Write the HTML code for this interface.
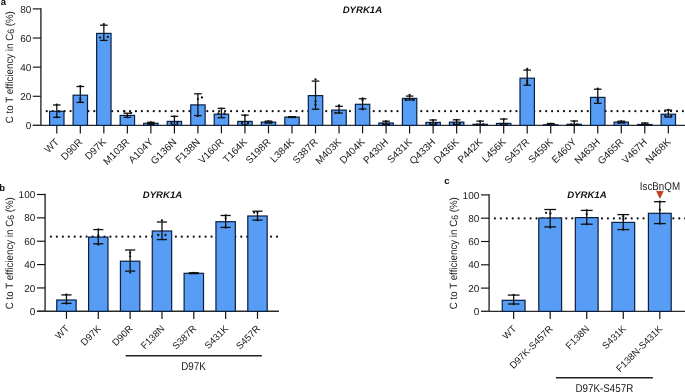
<!DOCTYPE html>
<html><head><meta charset="utf-8"><style>
html,body{margin:0;padding:0;background:#fff;width:685px;height:392px;overflow:hidden}
svg{display:block;text-rendering:geometricPrecision}
</style></head><body>
<svg width="685" height="392" viewBox="0 0 685 392" font-family='"Liberation Sans", Arial, Helvetica, sans-serif'>
<rect width="685" height="392" fill="#fff"/>
<text x="0.7" y="4.9" font-size="9.5" text-anchor="start" font-weight="bold" font-style="normal" fill="#111" >a</text>
<text x="-0.8" y="190.6" font-size="9.5" text-anchor="start" font-weight="bold" font-style="normal" fill="#111" >b</text>
<text x="444.2" y="184" font-size="9.5" text-anchor="start" font-weight="bold" font-style="normal" fill="#111" >c</text>
<text x="362.4" y="12.6" font-size="9.6" text-anchor="middle" font-weight="bold" font-style="italic" fill="#111" >DYRK1A</text>
<text x="162.5" y="198.3" font-size="9.6" text-anchor="middle" font-weight="bold" font-style="italic" fill="#111" >DYRK1A</text>
<text x="586.9" y="198.2" font-size="9.6" text-anchor="middle" font-weight="bold" font-style="italic" fill="#111" >DYRK1A</text>
<line x1="40.9" y1="8.25" x2="40.9" y2="125.4" stroke="#2b2b2b" stroke-width="1.4" />
<line x1="32.8" y1="125.4" x2="40.9" y2="125.4" stroke="#111" stroke-width="1.15" />
<text x="31.3" y="129" font-size="10" text-anchor="end" font-weight="normal" font-style="normal" fill="#1a1a1a" >0</text>
<line x1="32.8" y1="96.28" x2="40.9" y2="96.28" stroke="#111" stroke-width="1.15" />
<text x="31.3" y="99.88" font-size="10" text-anchor="end" font-weight="normal" font-style="normal" fill="#1a1a1a" >20</text>
<line x1="32.8" y1="67.15" x2="40.9" y2="67.15" stroke="#111" stroke-width="1.15" />
<text x="31.3" y="70.75" font-size="10" text-anchor="end" font-weight="normal" font-style="normal" fill="#1a1a1a" >40</text>
<line x1="32.8" y1="38.03" x2="40.9" y2="38.03" stroke="#111" stroke-width="1.15" />
<text x="31.3" y="41.63" font-size="10" text-anchor="end" font-weight="normal" font-style="normal" fill="#1a1a1a" >60</text>
<line x1="32.8" y1="8.9" x2="40.9" y2="8.9" stroke="#111" stroke-width="1.15" />
<text x="31.3" y="12.5" font-size="10" text-anchor="end" font-weight="normal" font-style="normal" fill="#1a1a1a" >80</text>
<line x1="32.8" y1="125.4" x2="685" y2="125.4" stroke="#2b2b2b" stroke-width="1.4" />
<line x1="46.76" y1="111.2" x2="686" y2="111.2" stroke="#111" stroke-width="2.2" stroke-linecap="round" stroke-dasharray="0 5.9453" />
<rect x="49.6" y="111.3" width="14.4" height="14.1" fill="#579cf5" stroke="#0b1f3f" stroke-width="1.2"/>
<line x1="56.8" y1="105" x2="56.8" y2="117.3" stroke="#111" stroke-width="1.3" />
<line x1="53" y1="105" x2="60.6" y2="105" stroke="#111" stroke-width="1.3" />
<line x1="53" y1="117.3" x2="60.6" y2="117.3" stroke="#111" stroke-width="1.3" />
<circle cx="56.8" cy="104.6" r="1.15" fill="#111"/>
<circle cx="56.8" cy="117.2" r="1.15" fill="#111"/>
<circle cx="59.3" cy="111.6" r="1.15" fill="#111"/>
<line x1="56.8" y1="125.4" x2="56.8" y2="133.4" stroke="#151515" stroke-width="1.2" />
<rect x="73.12" y="95.2" width="14.4" height="30.2" fill="#579cf5" stroke="#0b1f3f" stroke-width="1.2"/>
<line x1="80.32" y1="86.5" x2="80.32" y2="102.4" stroke="#111" stroke-width="1.3" />
<line x1="76.52" y1="86.5" x2="84.12" y2="86.5" stroke="#111" stroke-width="1.3" />
<line x1="76.52" y1="102.4" x2="84.12" y2="102.4" stroke="#111" stroke-width="1.3" />
<circle cx="80.32" cy="86.1" r="1.15" fill="#111"/>
<circle cx="80.32" cy="98.9" r="1.15" fill="#111"/>
<circle cx="80.32" cy="101.8" r="1.15" fill="#111"/>
<line x1="80.32" y1="125.4" x2="80.32" y2="133.4" stroke="#151515" stroke-width="1.2" />
<rect x="96.64" y="33.4" width="14.4" height="92" fill="#579cf5" stroke="#0b1f3f" stroke-width="1.2"/>
<line x1="103.84" y1="25.2" x2="103.84" y2="40.4" stroke="#111" stroke-width="1.3" />
<line x1="100.04" y1="25.2" x2="107.64" y2="25.2" stroke="#111" stroke-width="1.3" />
<line x1="100.04" y1="40.4" x2="107.64" y2="40.4" stroke="#111" stroke-width="1.3" />
<circle cx="103.84" cy="24.2" r="1.15" fill="#111"/>
<circle cx="100.14" cy="37.6" r="1.15" fill="#111"/>
<circle cx="107.84" cy="36.9" r="1.15" fill="#111"/>
<line x1="103.84" y1="125.4" x2="103.84" y2="133.4" stroke="#151515" stroke-width="1.2" />
<rect x="120.16" y="115.4" width="14.4" height="10" fill="#579cf5" stroke="#0b1f3f" stroke-width="1.2"/>
<line x1="127.36" y1="113.2" x2="127.36" y2="117.3" stroke="#111" stroke-width="1.3" />
<line x1="123.56" y1="113.2" x2="131.16" y2="113.2" stroke="#111" stroke-width="1.3" />
<line x1="123.56" y1="117.3" x2="131.16" y2="117.3" stroke="#111" stroke-width="1.3" />
<circle cx="124.36" cy="111.4" r="1.15" fill="#111"/>
<circle cx="131.16" cy="112.9" r="1.15" fill="#111"/>
<circle cx="127.36" cy="117.2" r="1.15" fill="#111"/>
<line x1="127.36" y1="125.4" x2="127.36" y2="133.4" stroke="#151515" stroke-width="1.2" />
<rect x="143.68" y="123.3" width="14.4" height="2.1" fill="#579cf5" stroke="#0b1f3f" stroke-width="1.2"/>
<line x1="150.88" y1="122.3" x2="150.88" y2="124.3" stroke="#111" stroke-width="1.3" />
<line x1="147.08" y1="122.3" x2="154.68" y2="122.3" stroke="#111" stroke-width="1.3" />
<line x1="147.08" y1="124.3" x2="154.68" y2="124.3" stroke="#111" stroke-width="1.3" />
<circle cx="150.88" cy="122.4" r="1.15" fill="#111"/>
<circle cx="148.88" cy="123.6" r="1.15" fill="#111"/>
<circle cx="152.88" cy="123.6" r="1.15" fill="#111"/>
<line x1="150.88" y1="125.4" x2="150.88" y2="133.4" stroke="#151515" stroke-width="1.2" />
<rect x="167.2" y="121.4" width="14.4" height="4" fill="#579cf5" stroke="#0b1f3f" stroke-width="1.2"/>
<line x1="174.4" y1="116.3" x2="174.4" y2="125" stroke="#111" stroke-width="1.3" />
<line x1="170.6" y1="116.3" x2="178.2" y2="116.3" stroke="#111" stroke-width="1.3" />
<line x1="170.6" y1="125" x2="178.2" y2="125" stroke="#111" stroke-width="1.3" />
<circle cx="171.4" cy="123" r="1.15" fill="#111"/>
<circle cx="177.4" cy="123" r="1.15" fill="#111"/>
<circle cx="174.4" cy="116.6" r="1.15" fill="#111"/>
<line x1="174.4" y1="125.4" x2="174.4" y2="133.4" stroke="#151515" stroke-width="1.2" />
<rect x="190.72" y="104.9" width="14.4" height="20.5" fill="#579cf5" stroke="#0b1f3f" stroke-width="1.2"/>
<line x1="197.92" y1="93.8" x2="197.92" y2="115.6" stroke="#111" stroke-width="1.3" />
<line x1="194.12" y1="93.8" x2="201.72" y2="93.8" stroke="#111" stroke-width="1.3" />
<line x1="194.12" y1="115.6" x2="201.72" y2="115.6" stroke="#111" stroke-width="1.3" />
<circle cx="201.92" cy="97.5" r="1.15" fill="#111"/>
<circle cx="197.92" cy="99.1" r="1.15" fill="#111"/>
<circle cx="197.92" cy="116" r="1.15" fill="#111"/>
<line x1="197.92" y1="125.4" x2="197.92" y2="133.4" stroke="#151515" stroke-width="1.2" />
<rect x="214.24" y="114.2" width="14.4" height="11.2" fill="#579cf5" stroke="#0b1f3f" stroke-width="1.2"/>
<line x1="221.44" y1="108.4" x2="221.44" y2="117.7" stroke="#111" stroke-width="1.3" />
<line x1="217.64" y1="108.4" x2="225.24" y2="108.4" stroke="#111" stroke-width="1.3" />
<line x1="217.64" y1="117.7" x2="225.24" y2="117.7" stroke="#111" stroke-width="1.3" />
<circle cx="221.44" cy="108.6" r="1.15" fill="#111"/>
<circle cx="218.44" cy="113.5" r="1.15" fill="#111"/>
<circle cx="224.44" cy="113.5" r="1.15" fill="#111"/>
<line x1="221.44" y1="125.4" x2="221.44" y2="133.4" stroke="#151515" stroke-width="1.2" />
<rect x="237.76" y="121.4" width="14.4" height="4" fill="#579cf5" stroke="#0b1f3f" stroke-width="1.2"/>
<line x1="244.96" y1="115.1" x2="244.96" y2="125" stroke="#111" stroke-width="1.3" />
<line x1="241.16" y1="115.1" x2="248.76" y2="115.1" stroke="#111" stroke-width="1.3" />
<line x1="241.16" y1="125" x2="248.76" y2="125" stroke="#111" stroke-width="1.3" />
<circle cx="244.96" cy="115.5" r="1.15" fill="#111"/>
<circle cx="241.96" cy="123" r="1.15" fill="#111"/>
<circle cx="247.96" cy="123" r="1.15" fill="#111"/>
<line x1="244.96" y1="125.4" x2="244.96" y2="133.4" stroke="#151515" stroke-width="1.2" />
<rect x="261.28" y="122.1" width="14.4" height="3.3" fill="#579cf5" stroke="#0b1f3f" stroke-width="1.2"/>
<line x1="268.48" y1="121.1" x2="268.48" y2="123" stroke="#111" stroke-width="1.3" />
<line x1="264.68" y1="121.1" x2="272.28" y2="121.1" stroke="#111" stroke-width="1.3" />
<line x1="264.68" y1="123" x2="272.28" y2="123" stroke="#111" stroke-width="1.3" />
<circle cx="265.48" cy="122.5" r="1.15" fill="#111"/>
<circle cx="268.48" cy="121.3" r="1.15" fill="#111"/>
<circle cx="271.48" cy="122.5" r="1.15" fill="#111"/>
<line x1="268.48" y1="125.4" x2="268.48" y2="133.4" stroke="#151515" stroke-width="1.2" />
<rect x="284.8" y="117.1" width="14.4" height="8.3" fill="#579cf5" stroke="#0b1f3f" stroke-width="1.2"/>
<line x1="292" y1="116.8" x2="292" y2="117.4" stroke="#111" stroke-width="1.3" />
<line x1="288.2" y1="116.8" x2="295.8" y2="116.8" stroke="#111" stroke-width="1.3" />
<line x1="288.2" y1="117.4" x2="295.8" y2="117.4" stroke="#111" stroke-width="1.3" />
<circle cx="289" cy="117.2" r="1.15" fill="#111"/>
<circle cx="292" cy="117.2" r="1.15" fill="#111"/>
<circle cx="295" cy="117.2" r="1.15" fill="#111"/>
<line x1="292" y1="125.4" x2="292" y2="133.4" stroke="#151515" stroke-width="1.2" />
<rect x="308.32" y="95.6" width="14.4" height="29.8" fill="#579cf5" stroke="#0b1f3f" stroke-width="1.2"/>
<line x1="315.52" y1="81.1" x2="315.52" y2="109.2" stroke="#111" stroke-width="1.3" />
<line x1="311.72" y1="81.1" x2="319.32" y2="81.1" stroke="#111" stroke-width="1.3" />
<line x1="311.72" y1="109.2" x2="319.32" y2="109.2" stroke="#111" stroke-width="1.3" />
<circle cx="315.52" cy="79.5" r="1.15" fill="#111"/>
<circle cx="315.52" cy="101.4" r="1.15" fill="#111"/>
<circle cx="315.52" cy="104.9" r="1.15" fill="#111"/>
<line x1="315.52" y1="125.4" x2="315.52" y2="133.4" stroke="#151515" stroke-width="1.2" />
<rect x="331.84" y="110.1" width="14.4" height="15.3" fill="#579cf5" stroke="#0b1f3f" stroke-width="1.2"/>
<line x1="339.04" y1="106.3" x2="339.04" y2="113" stroke="#111" stroke-width="1.3" />
<line x1="335.24" y1="106.3" x2="342.84" y2="106.3" stroke="#111" stroke-width="1.3" />
<line x1="335.24" y1="113" x2="342.84" y2="113" stroke="#111" stroke-width="1.3" />
<circle cx="339.04" cy="105.5" r="1.15" fill="#111"/>
<circle cx="335.34" cy="112.8" r="1.15" fill="#111"/>
<circle cx="339.04" cy="112.8" r="1.15" fill="#111"/>
<line x1="339.04" y1="125.4" x2="339.04" y2="133.4" stroke="#151515" stroke-width="1.2" />
<rect x="355.36" y="104.3" width="14.4" height="21.1" fill="#579cf5" stroke="#0b1f3f" stroke-width="1.2"/>
<line x1="362.56" y1="98.7" x2="362.56" y2="109" stroke="#111" stroke-width="1.3" />
<line x1="358.76" y1="98.7" x2="366.36" y2="98.7" stroke="#111" stroke-width="1.3" />
<line x1="358.76" y1="109" x2="366.36" y2="109" stroke="#111" stroke-width="1.3" />
<circle cx="362.56" cy="98.5" r="1.15" fill="#111"/>
<circle cx="362.56" cy="100.2" r="1.15" fill="#111"/>
<circle cx="362.56" cy="109.3" r="1.15" fill="#111"/>
<line x1="362.56" y1="125.4" x2="362.56" y2="133.4" stroke="#151515" stroke-width="1.2" />
<rect x="378.88" y="123" width="14.4" height="2.4" fill="#579cf5" stroke="#0b1f3f" stroke-width="1.2"/>
<line x1="386.08" y1="121.2" x2="386.08" y2="124.5" stroke="#111" stroke-width="1.3" />
<line x1="382.28" y1="121.2" x2="389.88" y2="121.2" stroke="#111" stroke-width="1.3" />
<line x1="382.28" y1="124.5" x2="389.88" y2="124.5" stroke="#111" stroke-width="1.3" />
<circle cx="386.08" cy="121.4" r="1.15" fill="#111"/>
<circle cx="383.08" cy="123.8" r="1.15" fill="#111"/>
<circle cx="389.08" cy="123.8" r="1.15" fill="#111"/>
<line x1="386.08" y1="125.4" x2="386.08" y2="133.4" stroke="#151515" stroke-width="1.2" />
<rect x="402.4" y="98.4" width="14.4" height="27" fill="#579cf5" stroke="#0b1f3f" stroke-width="1.2"/>
<line x1="409.6" y1="96.1" x2="409.6" y2="100" stroke="#111" stroke-width="1.3" />
<line x1="405.8" y1="96.1" x2="413.4" y2="96.1" stroke="#111" stroke-width="1.3" />
<line x1="405.8" y1="100" x2="413.4" y2="100" stroke="#111" stroke-width="1.3" />
<circle cx="409.6" cy="94.9" r="1.15" fill="#111"/>
<circle cx="405.6" cy="100" r="1.15" fill="#111"/>
<circle cx="413.6" cy="100" r="1.15" fill="#111"/>
<line x1="409.6" y1="125.4" x2="409.6" y2="133.4" stroke="#151515" stroke-width="1.2" />
<rect x="425.92" y="122.4" width="14.4" height="3" fill="#579cf5" stroke="#0b1f3f" stroke-width="1.2"/>
<line x1="433.12" y1="120" x2="433.12" y2="124.5" stroke="#111" stroke-width="1.3" />
<line x1="429.32" y1="120" x2="436.92" y2="120" stroke="#111" stroke-width="1.3" />
<line x1="429.32" y1="124.5" x2="436.92" y2="124.5" stroke="#111" stroke-width="1.3" />
<circle cx="433.12" cy="120.2" r="1.15" fill="#111"/>
<circle cx="430.12" cy="123.5" r="1.15" fill="#111"/>
<circle cx="436.12" cy="123.5" r="1.15" fill="#111"/>
<line x1="433.12" y1="125.4" x2="433.12" y2="133.4" stroke="#151515" stroke-width="1.2" />
<rect x="449.44" y="122.1" width="14.4" height="3.3" fill="#579cf5" stroke="#0b1f3f" stroke-width="1.2"/>
<line x1="456.64" y1="119.8" x2="456.64" y2="124.5" stroke="#111" stroke-width="1.3" />
<line x1="452.84" y1="119.8" x2="460.44" y2="119.8" stroke="#111" stroke-width="1.3" />
<line x1="452.84" y1="124.5" x2="460.44" y2="124.5" stroke="#111" stroke-width="1.3" />
<circle cx="456.64" cy="120" r="1.15" fill="#111"/>
<circle cx="453.64" cy="123.3" r="1.15" fill="#111"/>
<circle cx="459.64" cy="123.3" r="1.15" fill="#111"/>
<line x1="456.64" y1="125.4" x2="456.64" y2="133.4" stroke="#151515" stroke-width="1.2" />
<rect x="472.96" y="124.3" width="14.4" height="1.1" fill="#579cf5" stroke="#0b1f3f" stroke-width="1.2"/>
<line x1="480.16" y1="121.1" x2="480.16" y2="125" stroke="#111" stroke-width="1.3" />
<line x1="476.36" y1="121.1" x2="483.96" y2="121.1" stroke="#111" stroke-width="1.3" />
<line x1="476.36" y1="125" x2="483.96" y2="125" stroke="#111" stroke-width="1.3" />
<circle cx="480.16" cy="121.4" r="1.15" fill="#111"/>
<circle cx="477.16" cy="124.5" r="1.15" fill="#111"/>
<circle cx="483.16" cy="124.5" r="1.15" fill="#111"/>
<line x1="480.16" y1="125.4" x2="480.16" y2="133.4" stroke="#151515" stroke-width="1.2" />
<rect x="496.48" y="123.4" width="14.4" height="2" fill="#579cf5" stroke="#0b1f3f" stroke-width="1.2"/>
<line x1="503.68" y1="119" x2="503.68" y2="125" stroke="#111" stroke-width="1.3" />
<line x1="499.88" y1="119" x2="507.48" y2="119" stroke="#111" stroke-width="1.3" />
<line x1="499.88" y1="125" x2="507.48" y2="125" stroke="#111" stroke-width="1.3" />
<circle cx="503.68" cy="119.3" r="1.15" fill="#111"/>
<circle cx="500.68" cy="124" r="1.15" fill="#111"/>
<circle cx="506.68" cy="124" r="1.15" fill="#111"/>
<line x1="503.68" y1="125.4" x2="503.68" y2="133.4" stroke="#151515" stroke-width="1.2" />
<rect x="520" y="78.2" width="14.4" height="47.2" fill="#579cf5" stroke="#0b1f3f" stroke-width="1.2"/>
<line x1="527.2" y1="70.1" x2="527.2" y2="85.2" stroke="#111" stroke-width="1.3" />
<line x1="523.4" y1="70.1" x2="531" y2="70.1" stroke="#111" stroke-width="1.3" />
<line x1="523.4" y1="85.2" x2="531" y2="85.2" stroke="#111" stroke-width="1.3" />
<circle cx="527.2" cy="69" r="1.15" fill="#111"/>
<circle cx="527.2" cy="80.75" r="1.15" fill="#111"/>
<circle cx="527.2" cy="83.25" r="1.15" fill="#111"/>
<line x1="527.2" y1="125.4" x2="527.2" y2="133.4" stroke="#151515" stroke-width="1.2" />
<rect x="543.52" y="124.8" width="14.4" height="0.6" fill="#579cf5" stroke="#0b1f3f" stroke-width="1.2"/>
<line x1="550.72" y1="123.5" x2="550.72" y2="125" stroke="#111" stroke-width="1.3" />
<line x1="546.92" y1="123.5" x2="554.52" y2="123.5" stroke="#111" stroke-width="1.3" />
<line x1="546.92" y1="125" x2="554.52" y2="125" stroke="#111" stroke-width="1.3" />
<circle cx="547.72" cy="124.3" r="1.15" fill="#111"/>
<circle cx="550.72" cy="123.8" r="1.15" fill="#111"/>
<circle cx="553.72" cy="124.3" r="1.15" fill="#111"/>
<line x1="550.72" y1="125.4" x2="550.72" y2="133.4" stroke="#151515" stroke-width="1.2" />
<rect x="567.04" y="124.3" width="14.4" height="1.1" fill="#579cf5" stroke="#0b1f3f" stroke-width="1.2"/>
<line x1="574.24" y1="121" x2="574.24" y2="125" stroke="#111" stroke-width="1.3" />
<line x1="570.44" y1="121" x2="578.04" y2="121" stroke="#111" stroke-width="1.3" />
<line x1="570.44" y1="125" x2="578.04" y2="125" stroke="#111" stroke-width="1.3" />
<circle cx="574.24" cy="121.3" r="1.15" fill="#111"/>
<circle cx="571.24" cy="124.4" r="1.15" fill="#111"/>
<circle cx="577.24" cy="124.4" r="1.15" fill="#111"/>
<line x1="574.24" y1="125.4" x2="574.24" y2="133.4" stroke="#151515" stroke-width="1.2" />
<rect x="590.56" y="97.4" width="14.4" height="28" fill="#579cf5" stroke="#0b1f3f" stroke-width="1.2"/>
<line x1="597.76" y1="89.2" x2="597.76" y2="103.3" stroke="#111" stroke-width="1.3" />
<line x1="593.96" y1="89.2" x2="601.56" y2="89.2" stroke="#111" stroke-width="1.3" />
<line x1="593.96" y1="103.3" x2="601.56" y2="103.3" stroke="#111" stroke-width="1.3" />
<circle cx="597.76" cy="88.7" r="1.15" fill="#111"/>
<circle cx="597.76" cy="99" r="1.15" fill="#111"/>
<circle cx="597.76" cy="100.75" r="1.15" fill="#111"/>
<line x1="597.76" y1="125.4" x2="597.76" y2="133.4" stroke="#151515" stroke-width="1.2" />
<rect x="614.08" y="122.1" width="14.4" height="3.3" fill="#579cf5" stroke="#0b1f3f" stroke-width="1.2"/>
<line x1="621.28" y1="121.2" x2="621.28" y2="123" stroke="#111" stroke-width="1.3" />
<line x1="617.48" y1="121.2" x2="625.08" y2="121.2" stroke="#111" stroke-width="1.3" />
<line x1="617.48" y1="123" x2="625.08" y2="123" stroke="#111" stroke-width="1.3" />
<circle cx="618.28" cy="122.5" r="1.15" fill="#111"/>
<circle cx="621.28" cy="121.4" r="1.15" fill="#111"/>
<circle cx="624.28" cy="122.5" r="1.15" fill="#111"/>
<line x1="621.28" y1="125.4" x2="621.28" y2="133.4" stroke="#151515" stroke-width="1.2" />
<rect x="637.6" y="124.5" width="14.4" height="0.9" fill="#579cf5" stroke="#0b1f3f" stroke-width="1.2"/>
<line x1="644.8" y1="123" x2="644.8" y2="125" stroke="#111" stroke-width="1.3" />
<line x1="641" y1="123" x2="648.6" y2="123" stroke="#111" stroke-width="1.3" />
<line x1="641" y1="125" x2="648.6" y2="125" stroke="#111" stroke-width="1.3" />
<circle cx="642.3" cy="124.3" r="1.15" fill="#111"/>
<circle cx="644.8" cy="123.3" r="1.15" fill="#111"/>
<circle cx="647.3" cy="124.3" r="1.15" fill="#111"/>
<line x1="644.8" y1="125.4" x2="644.8" y2="133.4" stroke="#151515" stroke-width="1.2" />
<rect x="661.12" y="114.2" width="14.4" height="11.2" fill="#579cf5" stroke="#0b1f3f" stroke-width="1.2"/>
<line x1="668.32" y1="110.1" x2="668.32" y2="117.1" stroke="#111" stroke-width="1.3" />
<line x1="664.52" y1="110.1" x2="672.12" y2="110.1" stroke="#111" stroke-width="1.3" />
<line x1="664.52" y1="117.1" x2="672.12" y2="117.1" stroke="#111" stroke-width="1.3" />
<circle cx="668.32" cy="110" r="1.15" fill="#111"/>
<circle cx="665.32" cy="116" r="1.15" fill="#111"/>
<circle cx="671.32" cy="116" r="1.15" fill="#111"/>
<line x1="668.32" y1="125.4" x2="668.32" y2="133.4" stroke="#151515" stroke-width="1.2" />
<text x="0" y="0" font-size="9.75" text-anchor="middle" fill="#1a1a1a" transform="translate(12.85,67.2) rotate(-90) scale(1,1.08)">C to T efficiency in C<tspan font-size="8.6" dy="1.3">6</tspan><tspan dy="-1.3"> (%)</tspan></text>
<text x="0" y="0" font-size="10" text-anchor="end" fill="#1a1a1a" transform="translate(59.6,142.6) rotate(-45)">WT</text>
<text x="0" y="0" font-size="10" text-anchor="end" fill="#1a1a1a" transform="translate(83.12,142.6) rotate(-45)">D90R</text>
<text x="0" y="0" font-size="10" text-anchor="end" fill="#1a1a1a" transform="translate(106.64,142.6) rotate(-45)">D97K</text>
<text x="0" y="0" font-size="10" text-anchor="end" fill="#1a1a1a" transform="translate(130.16,142.6) rotate(-45)">M103R</text>
<text x="0" y="0" font-size="10" text-anchor="end" fill="#1a1a1a" transform="translate(153.68,142.6) rotate(-45)">A104Y</text>
<text x="0" y="0" font-size="10" text-anchor="end" fill="#1a1a1a" transform="translate(177.2,142.6) rotate(-45)">G136N</text>
<text x="0" y="0" font-size="10" text-anchor="end" fill="#1a1a1a" transform="translate(200.72,142.6) rotate(-45)">F138N</text>
<text x="0" y="0" font-size="10" text-anchor="end" fill="#1a1a1a" transform="translate(224.24,142.6) rotate(-45)">V160R</text>
<text x="0" y="0" font-size="10" text-anchor="end" fill="#1a1a1a" transform="translate(247.76,142.6) rotate(-45)">T164K</text>
<text x="0" y="0" font-size="10" text-anchor="end" fill="#1a1a1a" transform="translate(271.28,142.6) rotate(-45)">S198R</text>
<text x="0" y="0" font-size="10" text-anchor="end" fill="#1a1a1a" transform="translate(294.8,142.6) rotate(-45)">L384K</text>
<text x="0" y="0" font-size="10" text-anchor="end" fill="#1a1a1a" transform="translate(318.32,142.6) rotate(-45)">S387R</text>
<text x="0" y="0" font-size="10" text-anchor="end" fill="#1a1a1a" transform="translate(341.84,142.6) rotate(-45)">M403K</text>
<text x="0" y="0" font-size="10" text-anchor="end" fill="#1a1a1a" transform="translate(365.36,142.6) rotate(-45)">D404K</text>
<text x="0" y="0" font-size="10" text-anchor="end" fill="#1a1a1a" transform="translate(388.88,142.6) rotate(-45)">P430H</text>
<text x="0" y="0" font-size="10" text-anchor="end" fill="#1a1a1a" transform="translate(412.4,142.6) rotate(-45)">S431K</text>
<text x="0" y="0" font-size="10" text-anchor="end" fill="#1a1a1a" transform="translate(435.92,142.6) rotate(-45)">Q433H</text>
<text x="0" y="0" font-size="10" text-anchor="end" fill="#1a1a1a" transform="translate(459.44,142.6) rotate(-45)">D436K</text>
<text x="0" y="0" font-size="10" text-anchor="end" fill="#1a1a1a" transform="translate(482.96,142.6) rotate(-45)">P442K</text>
<text x="0" y="0" font-size="10" text-anchor="end" fill="#1a1a1a" transform="translate(506.48,142.6) rotate(-45)">L456K</text>
<text x="0" y="0" font-size="10" text-anchor="end" fill="#1a1a1a" transform="translate(530,142.6) rotate(-45)">S457R</text>
<text x="0" y="0" font-size="10" text-anchor="end" fill="#1a1a1a" transform="translate(553.52,142.6) rotate(-45)">S459K</text>
<text x="0" y="0" font-size="10" text-anchor="end" fill="#1a1a1a" transform="translate(577.04,142.6) rotate(-45)">E460Y</text>
<text x="0" y="0" font-size="10" text-anchor="end" fill="#1a1a1a" transform="translate(600.56,142.6) rotate(-45)">N463H</text>
<text x="0" y="0" font-size="10" text-anchor="end" fill="#1a1a1a" transform="translate(624.08,142.6) rotate(-45)">G465R</text>
<text x="0" y="0" font-size="10" text-anchor="end" fill="#1a1a1a" transform="translate(647.6,142.6) rotate(-45)">V467H</text>
<text x="0" y="0" font-size="10" text-anchor="end" fill="#1a1a1a" transform="translate(671.12,142.6) rotate(-45)">N468K</text>
<line x1="45.1" y1="193.85" x2="45.1" y2="311.3" stroke="#2b2b2b" stroke-width="1.4" />
<line x1="37" y1="311.3" x2="45.1" y2="311.3" stroke="#111" stroke-width="1.15" />
<text x="35.3" y="314.9" font-size="10" text-anchor="end" font-weight="normal" font-style="normal" fill="#1a1a1a" >0</text>
<line x1="37" y1="287.94" x2="45.1" y2="287.94" stroke="#111" stroke-width="1.15" />
<text x="35.3" y="291.54" font-size="10" text-anchor="end" font-weight="normal" font-style="normal" fill="#1a1a1a" >20</text>
<line x1="37" y1="264.58" x2="45.1" y2="264.58" stroke="#111" stroke-width="1.15" />
<text x="35.3" y="268.18" font-size="10" text-anchor="end" font-weight="normal" font-style="normal" fill="#1a1a1a" >40</text>
<line x1="37" y1="241.22" x2="45.1" y2="241.22" stroke="#111" stroke-width="1.15" />
<text x="35.3" y="244.82" font-size="10" text-anchor="end" font-weight="normal" font-style="normal" fill="#1a1a1a" >60</text>
<line x1="37" y1="217.86" x2="45.1" y2="217.86" stroke="#111" stroke-width="1.15" />
<text x="35.3" y="221.46" font-size="10" text-anchor="end" font-weight="normal" font-style="normal" fill="#1a1a1a" >80</text>
<line x1="37" y1="194.5" x2="45.1" y2="194.5" stroke="#111" stroke-width="1.15" />
<text x="35.3" y="198.1" font-size="10" text-anchor="end" font-weight="normal" font-style="normal" fill="#1a1a1a" >100</text>
<line x1="37" y1="311.3" x2="279" y2="311.3" stroke="#2b2b2b" stroke-width="1.4" />
<line x1="50.95" y1="236.7" x2="281" y2="236.7" stroke="#111" stroke-width="2.2" stroke-linecap="round" stroke-dasharray="0 5.948" />
<rect x="56.75" y="300" width="19.4" height="11.3" fill="#579cf5" stroke="#0b1f3f" stroke-width="1.2"/>
<line x1="66.45" y1="294.9" x2="66.45" y2="303.4" stroke="#111" stroke-width="1.3" />
<line x1="61.35" y1="294.9" x2="71.55" y2="294.9" stroke="#111" stroke-width="1.3" />
<line x1="61.35" y1="303.4" x2="71.55" y2="303.4" stroke="#111" stroke-width="1.3" />
<circle cx="66.45" cy="294.7" r="1.15" fill="#111"/>
<circle cx="66.45" cy="303.5" r="1.15" fill="#111"/>
<line x1="66.45" y1="311.3" x2="66.45" y2="318.9" stroke="#151515" stroke-width="1.2" />
<rect x="88.59" y="237.1" width="19.4" height="74.2" fill="#579cf5" stroke="#0b1f3f" stroke-width="1.2"/>
<line x1="98.29" y1="229.6" x2="98.29" y2="243.8" stroke="#111" stroke-width="1.3" />
<line x1="93.19" y1="229.6" x2="103.39" y2="229.6" stroke="#111" stroke-width="1.3" />
<line x1="93.19" y1="243.8" x2="103.39" y2="243.8" stroke="#111" stroke-width="1.3" />
<circle cx="98.29" cy="229.5" r="1.15" fill="#111"/>
<circle cx="98.29" cy="235.3" r="1.15" fill="#111"/>
<circle cx="98.29" cy="244.5" r="1.15" fill="#111"/>
<line x1="98.29" y1="311.3" x2="98.29" y2="318.9" stroke="#151515" stroke-width="1.2" />
<rect x="120.43" y="261.2" width="19.4" height="50.1" fill="#579cf5" stroke="#0b1f3f" stroke-width="1.2"/>
<line x1="130.13" y1="250" x2="130.13" y2="271.1" stroke="#111" stroke-width="1.3" />
<line x1="125.03" y1="250" x2="135.23" y2="250" stroke="#111" stroke-width="1.3" />
<line x1="125.03" y1="271.1" x2="135.23" y2="271.1" stroke="#111" stroke-width="1.3" />
<circle cx="130.13" cy="252.8" r="1.15" fill="#111"/>
<circle cx="130.13" cy="256.3" r="1.15" fill="#111"/>
<circle cx="130.13" cy="272.6" r="1.15" fill="#111"/>
<line x1="130.13" y1="311.3" x2="130.13" y2="318.9" stroke="#151515" stroke-width="1.2" />
<rect x="152.27" y="231" width="19.4" height="80.3" fill="#579cf5" stroke="#0b1f3f" stroke-width="1.2"/>
<line x1="161.97" y1="222" x2="161.97" y2="239.6" stroke="#111" stroke-width="1.3" />
<line x1="156.87" y1="222" x2="167.07" y2="222" stroke="#111" stroke-width="1.3" />
<line x1="156.87" y1="239.6" x2="167.07" y2="239.6" stroke="#111" stroke-width="1.3" />
<circle cx="161.97" cy="220.5" r="1.15" fill="#111"/>
<circle cx="158.27" cy="235" r="1.15" fill="#111"/>
<circle cx="165.47" cy="235" r="1.15" fill="#111"/>
<line x1="161.97" y1="311.3" x2="161.97" y2="318.9" stroke="#151515" stroke-width="1.2" />
<rect x="184.11" y="273.3" width="19.4" height="38" fill="#579cf5" stroke="#0b1f3f" stroke-width="1.2"/>
<line x1="193.81" y1="272.8" x2="193.81" y2="273.6" stroke="#111" stroke-width="1.3" />
<line x1="188.71" y1="272.8" x2="198.91" y2="272.8" stroke="#111" stroke-width="1.3" />
<line x1="188.71" y1="273.6" x2="198.91" y2="273.6" stroke="#111" stroke-width="1.3" />
<circle cx="193.81" cy="273" r="1.15" fill="#111"/>
<circle cx="191.81" cy="273.2" r="1.15" fill="#111"/>
<circle cx="195.81" cy="273.2" r="1.15" fill="#111"/>
<line x1="193.81" y1="311.3" x2="193.81" y2="318.9" stroke="#151515" stroke-width="1.2" />
<rect x="215.95" y="221.7" width="19.4" height="89.6" fill="#579cf5" stroke="#0b1f3f" stroke-width="1.2"/>
<line x1="225.65" y1="215.5" x2="225.65" y2="227.4" stroke="#111" stroke-width="1.3" />
<line x1="220.55" y1="215.5" x2="230.75" y2="215.5" stroke="#111" stroke-width="1.3" />
<line x1="220.55" y1="227.4" x2="230.75" y2="227.4" stroke="#111" stroke-width="1.3" />
<circle cx="225.65" cy="218.3" r="1.15" fill="#111"/>
<circle cx="225.65" cy="227.5" r="1.15" fill="#111"/>
<circle cx="225.65" cy="215.4" r="1.15" fill="#111"/>
<line x1="225.65" y1="311.3" x2="225.65" y2="318.9" stroke="#151515" stroke-width="1.2" />
<rect x="247.79" y="216" width="19.4" height="95.3" fill="#579cf5" stroke="#0b1f3f" stroke-width="1.2"/>
<line x1="257.49" y1="211.2" x2="257.49" y2="220.1" stroke="#111" stroke-width="1.3" />
<line x1="252.39" y1="211.2" x2="262.59" y2="211.2" stroke="#111" stroke-width="1.3" />
<line x1="252.39" y1="220.1" x2="262.59" y2="220.1" stroke="#111" stroke-width="1.3" />
<circle cx="254.09" cy="212.6" r="1.15" fill="#111"/>
<circle cx="257.49" cy="212.2" r="1.15" fill="#111"/>
<circle cx="257.49" cy="220.2" r="1.15" fill="#111"/>
<line x1="257.49" y1="311.3" x2="257.49" y2="318.9" stroke="#151515" stroke-width="1.2" />
<text x="0" y="0" font-size="9.75" text-anchor="middle" fill="#1a1a1a" transform="translate(12.85,253.2) rotate(-90) scale(1,1.08)">C to T efficiency in C<tspan font-size="8.6" dy="1.3">6</tspan><tspan dy="-1.3"> (%)</tspan></text>
<text x="0" y="0" font-size="9.6" text-anchor="end" fill="#1a1a1a" transform="translate(69.65,329.2) rotate(-45)">WT</text>
<text x="0" y="0" font-size="9.6" text-anchor="end" fill="#1a1a1a" transform="translate(101.49,329.2) rotate(-45)">D97K</text>
<text x="0" y="0" font-size="9.6" text-anchor="end" fill="#1a1a1a" transform="translate(133.33,329.2) rotate(-45)">D90R</text>
<text x="0" y="0" font-size="9.6" text-anchor="end" fill="#1a1a1a" transform="translate(165.17,329.2) rotate(-45)">F138N</text>
<text x="0" y="0" font-size="9.6" text-anchor="end" fill="#1a1a1a" transform="translate(197.01,329.2) rotate(-45)">S387R</text>
<text x="0" y="0" font-size="9.6" text-anchor="end" fill="#1a1a1a" transform="translate(228.85,329.2) rotate(-45)">S431K</text>
<text x="0" y="0" font-size="9.6" text-anchor="end" fill="#1a1a1a" transform="translate(260.69,329.2) rotate(-45)">S457R</text>
<line x1="489.1" y1="194.25" x2="489.1" y2="311.4" stroke="#2b2b2b" stroke-width="1.4" />
<line x1="481" y1="311.4" x2="489.1" y2="311.4" stroke="#111" stroke-width="1.15" />
<text x="479.3" y="315" font-size="10" text-anchor="end" font-weight="normal" font-style="normal" fill="#1a1a1a" >0</text>
<line x1="481" y1="288.1" x2="489.1" y2="288.1" stroke="#111" stroke-width="1.15" />
<text x="479.3" y="291.7" font-size="10" text-anchor="end" font-weight="normal" font-style="normal" fill="#1a1a1a" >20</text>
<line x1="481" y1="264.8" x2="489.1" y2="264.8" stroke="#111" stroke-width="1.15" />
<text x="479.3" y="268.4" font-size="10" text-anchor="end" font-weight="normal" font-style="normal" fill="#1a1a1a" >40</text>
<line x1="481" y1="241.5" x2="489.1" y2="241.5" stroke="#111" stroke-width="1.15" />
<text x="479.3" y="245.1" font-size="10" text-anchor="end" font-weight="normal" font-style="normal" fill="#1a1a1a" >60</text>
<line x1="481" y1="218.2" x2="489.1" y2="218.2" stroke="#111" stroke-width="1.15" />
<text x="479.3" y="221.8" font-size="10" text-anchor="end" font-weight="normal" font-style="normal" fill="#1a1a1a" >80</text>
<line x1="481" y1="194.9" x2="489.1" y2="194.9" stroke="#111" stroke-width="1.15" />
<text x="479.3" y="198.5" font-size="10" text-anchor="end" font-weight="normal" font-style="normal" fill="#1a1a1a" >100</text>
<line x1="481" y1="311.4" x2="685" y2="311.4" stroke="#2b2b2b" stroke-width="1.4" />
<line x1="494.9" y1="218.4" x2="686" y2="218.4" stroke="#111" stroke-width="2.2" stroke-linecap="round" stroke-dasharray="0 5.948" />
<rect x="502.25" y="300.3" width="22.8" height="11.1" fill="#579cf5" stroke="#0b1f3f" stroke-width="1.2"/>
<line x1="513.65" y1="295.1" x2="513.65" y2="304" stroke="#111" stroke-width="1.3" />
<line x1="507.75" y1="295.1" x2="519.55" y2="295.1" stroke="#111" stroke-width="1.3" />
<line x1="507.75" y1="304" x2="519.55" y2="304" stroke="#111" stroke-width="1.3" />
<circle cx="513.65" cy="294.8" r="1.15" fill="#111"/>
<circle cx="513.65" cy="304.2" r="1.15" fill="#111"/>
<line x1="513.65" y1="311.4" x2="513.65" y2="319" stroke="#151515" stroke-width="1.2" />
<rect x="538.79" y="218" width="22.8" height="93.4" fill="#579cf5" stroke="#0b1f3f" stroke-width="1.2"/>
<line x1="550.19" y1="209.5" x2="550.19" y2="226.9" stroke="#111" stroke-width="1.3" />
<line x1="544.29" y1="209.5" x2="556.09" y2="209.5" stroke="#111" stroke-width="1.3" />
<line x1="544.29" y1="226.9" x2="556.09" y2="226.9" stroke="#111" stroke-width="1.3" />
<circle cx="546.09" cy="212.8" r="1.15" fill="#111"/>
<circle cx="550.39" cy="213.4" r="1.15" fill="#111"/>
<circle cx="550.19" cy="227.5" r="1.15" fill="#111"/>
<line x1="550.19" y1="311.4" x2="550.19" y2="319" stroke="#151515" stroke-width="1.2" />
<rect x="575.33" y="217.6" width="22.8" height="93.8" fill="#579cf5" stroke="#0b1f3f" stroke-width="1.2"/>
<line x1="586.73" y1="210.4" x2="586.73" y2="224.2" stroke="#111" stroke-width="1.3" />
<line x1="580.83" y1="210.4" x2="592.63" y2="210.4" stroke="#111" stroke-width="1.3" />
<line x1="580.83" y1="224.2" x2="592.63" y2="224.2" stroke="#111" stroke-width="1.3" />
<circle cx="586.73" cy="214.2" r="1.15" fill="#111"/>
<circle cx="586.73" cy="224.2" r="1.15" fill="#111"/>
<circle cx="586.73" cy="210.4" r="1.15" fill="#111"/>
<line x1="586.73" y1="311.4" x2="586.73" y2="319" stroke="#151515" stroke-width="1.2" />
<rect x="611.87" y="222.4" width="22.8" height="89" fill="#579cf5" stroke="#0b1f3f" stroke-width="1.2"/>
<line x1="623.27" y1="214.6" x2="623.27" y2="229.6" stroke="#111" stroke-width="1.3" />
<line x1="617.37" y1="214.6" x2="629.17" y2="214.6" stroke="#111" stroke-width="1.3" />
<line x1="617.37" y1="229.6" x2="629.17" y2="229.6" stroke="#111" stroke-width="1.3" />
<circle cx="623.27" cy="216.5" r="1.15" fill="#111"/>
<circle cx="623.27" cy="219.3" r="1.15" fill="#111"/>
<circle cx="623.27" cy="229.7" r="1.15" fill="#111"/>
<line x1="623.27" y1="311.4" x2="623.27" y2="319" stroke="#151515" stroke-width="1.2" />
<rect x="648.41" y="213.3" width="22.8" height="98.1" fill="#579cf5" stroke="#0b1f3f" stroke-width="1.2"/>
<line x1="659.81" y1="201.7" x2="659.81" y2="223.6" stroke="#111" stroke-width="1.3" />
<line x1="653.91" y1="201.7" x2="665.71" y2="201.7" stroke="#111" stroke-width="1.3" />
<line x1="653.91" y1="223.6" x2="665.71" y2="223.6" stroke="#111" stroke-width="1.3" />
<circle cx="659.81" cy="209.7" r="1.15" fill="#111"/>
<circle cx="659.81" cy="223.6" r="1.15" fill="#111"/>
<circle cx="659.81" cy="201.7" r="1.15" fill="#111"/>
<line x1="659.81" y1="311.4" x2="659.81" y2="319" stroke="#151515" stroke-width="1.2" />
<text x="0" y="0" font-size="9.75" text-anchor="middle" fill="#1a1a1a" transform="translate(457,253.2) rotate(-90) scale(1,1.08)">C to T efficiency in C<tspan font-size="8.6" dy="1.3">6</tspan><tspan dy="-1.3"> (%)</tspan></text>
<text x="0" y="0" font-size="9.6" text-anchor="end" fill="#1a1a1a" transform="translate(516.85,329.4) rotate(-45)">WT</text>
<text x="0" y="0" font-size="9.6" text-anchor="end" fill="#1a1a1a" transform="translate(553.39,329.4) rotate(-45)">D97K-S457R</text>
<text x="0" y="0" font-size="9.6" text-anchor="end" fill="#1a1a1a" transform="translate(589.93,329.4) rotate(-45)">F138N</text>
<text x="0" y="0" font-size="9.6" text-anchor="end" fill="#1a1a1a" transform="translate(626.47,329.4) rotate(-45)">S431K</text>
<text x="0" y="0" font-size="9.6" text-anchor="end" fill="#1a1a1a" transform="translate(663.01,329.4) rotate(-45)">F138N-S431K</text>
<line x1="125.7" y1="355.7" x2="261.8" y2="355.7" stroke="#222" stroke-width="1.5" />
<text x="0" y="0" font-size="9.8" text-anchor="middle" font-weight="normal" font-style="normal" fill="#1a1a1a" transform="translate(193.5,369.6) scale(1,1.15)" >D97K</text>
<line x1="555.9" y1="377.7" x2="652.9" y2="377.7" stroke="#222" stroke-width="1.5" />
<text x="0" y="0" font-size="9.8" text-anchor="middle" font-weight="normal" font-style="normal" fill="#1a1a1a" transform="translate(604.4,391.9) scale(1,1.15)" >D97K-S457R</text>
<text x="0" y="0" font-size="9.8" text-anchor="middle" font-weight="normal" font-style="normal" fill="#1a1a1a" transform="translate(659.9,190) scale(1,1.15)" >IscBnQM</text>
<polygon points="656.6,191.3 663.2,191.3 659.9,198.2" fill="#cc3d14" stroke="#9a3018" stroke-width="0.6" stroke-linejoin="round"/>
</svg>
</body></html>
